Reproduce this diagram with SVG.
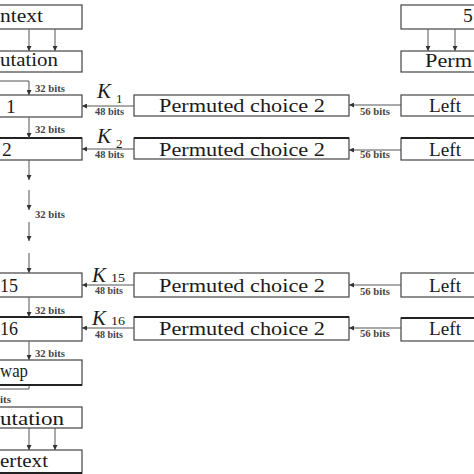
<svg xmlns="http://www.w3.org/2000/svg" width="474" height="474" viewBox="0 0 474 474">
<defs>
<marker id="ah" viewBox="0 0 10 10" refX="10" refY="5" markerWidth="5" markerHeight="5" orient="auto" markerUnits="userSpaceOnUse">
<path d="M0,0 L10,5 L0,10 z" fill="#333"/>
</marker>
<style>
.box{fill:#fff;stroke:#444;stroke-width:1.2}
.thick{stroke:#222;stroke-width:2.2;fill:none}
.t{font-family:"Liberation Serif","Times New Roman",serif;font-size:19.5px;fill:#1a1a1a}
.k{font-family:"Liberation Serif","Times New Roman",serif;font-style:italic;font-size:21px;fill:#1a1a1a}
.ks{font-family:"Liberation Serif","Times New Roman",serif;font-size:13px;fill:#1a1a1a}
.s{font-family:"Liberation Serif","Times New Roman",serif;font-size:9.5px;font-weight:bold;fill:#444}
.c{stroke:#555;stroke-width:1;fill:none}
.ca{stroke:#555;stroke-width:1;fill:none;marker-end:url(#ah)}
</style>
</defs>
<rect width="474" height="474" fill="#fff"/>

<g id="plaintext"><rect class="box" x="-2" y="5" width="84" height="24"/><text class="t" x="0" y="22" textLength="43" lengthAdjust="spacingAndGlyphs">ntext</text></g>
<g id="ip"><rect class="box" x="-2" y="51" width="84" height="21"/><text class="t" x="0" y="66" textLength="58" lengthAdjust="spacingAndGlyphs">utation</text></g>
<g id="round1"><rect class="box" x="-2" y="95" width="84" height="22"/><text class="t" x="6" y="112.5">1</text></g>
<g id="round2"><rect class="box" x="-2" y="138" width="84" height="22"/><line class="thick" x1="-2" y1="138" x2="82" y2="138"/><text class="t" x="2" y="156">2</text></g>
<g id="round15"><rect class="box" x="-2" y="273" width="84" height="24"/><text class="t" x="0" y="292" textLength="18" lengthAdjust="spacingAndGlyphs">15</text></g>
<g id="round16"><rect class="box" x="-2" y="317" width="84" height="24"/><line class="thick" x1="-2" y1="317" x2="82" y2="317"/><text class="t" x="0" y="335" textLength="18" lengthAdjust="spacingAndGlyphs">16</text></g>
<g id="swap"><rect class="box" x="-2" y="360" width="84" height="25"/><line class="thick" x1="-2" y1="385" x2="82" y2="385"/><text class="t" x="0" y="377" textLength="28" lengthAdjust="spacingAndGlyphs">wap</text></g>
<g id="ipinv"><rect class="box" x="-2" y="407" width="84" height="21"/><text class="t" x="0" y="425" textLength="64" lengthAdjust="spacingAndGlyphs">utation</text></g>
<g id="ciphertext"><rect class="box" x="-2" y="450" width="84" height="23"/><line class="thick" x1="-2" y1="473" x2="82" y2="473"/><text class="t" x="0" y="467" textLength="48" lengthAdjust="spacingAndGlyphs">ertext</text></g>

<g id="pc2-1"><rect class="box" x="134" y="95" width="215" height="21"/><text class="t" x="159" y="112" textLength="166" lengthAdjust="spacingAndGlyphs">Permuted choice 2</text></g>
<g id="pc2-2"><rect class="box" x="134" y="138" width="215" height="21"/><line class="thick" x1="134" y1="138" x2="349" y2="138"/><text class="t" x="159" y="156" textLength="166" lengthAdjust="spacingAndGlyphs">Permuted choice 2</text></g>
<g id="pc2-15"><rect class="box" x="134" y="273" width="215" height="24"/><text class="t" x="159" y="292" textLength="166" lengthAdjust="spacingAndGlyphs">Permuted choice 2</text></g>
<g id="pc2-16"><rect class="box" x="134" y="317" width="215" height="23"/><line class="thick" x1="134" y1="317" x2="349" y2="317"/><text class="t" x="159" y="335" textLength="166" lengthAdjust="spacingAndGlyphs">Permuted choice 2</text></g>

<g id="key"><rect class="box" x="401" y="5" width="76" height="24"/><text class="t" x="463" y="21.5">5</text></g>
<g id="pc1"><rect class="box" x="401" y="51" width="76" height="21"/><text class="t" x="425" y="67" textLength="47" lengthAdjust="spacingAndGlyphs">Perm</text></g>
<g id="ls1"><rect class="box" x="401" y="95" width="76" height="21"/><text class="t" x="429" y="112" textLength="32" lengthAdjust="spacingAndGlyphs">Left</text></g>
<g id="ls2"><rect class="box" x="401" y="138" width="76" height="22"/><line class="thick" x1="401" y1="138" x2="477" y2="138"/><text class="t" x="429" y="156" textLength="32" lengthAdjust="spacingAndGlyphs">Left</text></g>
<g id="ls15"><rect class="box" x="401" y="273" width="76" height="24"/><text class="t" x="429" y="292" textLength="32" lengthAdjust="spacingAndGlyphs">Left</text></g>
<g id="ls16"><rect class="box" x="401" y="318" width="76" height="23"/><line class="thick" x1="401" y1="318" x2="477" y2="318"/><text class="t" x="429" y="335" textLength="32" lengthAdjust="spacingAndGlyphs">Left</text></g>

<g id="connectors">
<line class="ca" x1="29" y1="29" x2="29" y2="51"/>
<line class="ca" x1="55" y1="29" x2="55" y2="51"/>
<polyline class="ca" points="0,81 29,81 29,95"/>
<line class="ca" x1="29" y1="117" x2="29" y2="138"/>
<line class="ca" x1="29" y1="160" x2="29" y2="180"/>
<line class="ca" x1="29" y1="190" x2="29" y2="210"/>
<line class="ca" x1="29" y1="222" x2="29" y2="241"/>
<line class="ca" x1="29" y1="253" x2="29" y2="273"/>
<line class="ca" x1="29" y1="297" x2="29" y2="317"/>
<line class="ca" x1="29" y1="341" x2="29" y2="360"/>
<polyline class="c" points="29,386 29,389 0,389"/>
<line class="ca" x1="29" y1="428" x2="29" y2="450"/>
<line class="ca" x1="55" y1="428" x2="55" y2="450"/>
<line class="ca" x1="428" y1="29" x2="428" y2="51"/>
<line class="ca" x1="455" y1="29" x2="455" y2="51"/>
<line class="ca" x1="134" y1="106" x2="82" y2="106"/>
<line class="ca" x1="134" y1="149" x2="82" y2="149"/>
<line class="ca" x1="134" y1="285" x2="82" y2="285"/>
<line class="ca" x1="134" y1="328" x2="82" y2="328"/>
<line class="ca" x1="401" y1="105" x2="349" y2="105"/>
<line class="ca" x1="401" y1="150" x2="349" y2="150"/>
<line class="ca" x1="401" y1="285" x2="349" y2="285"/>
<line class="ca" x1="401" y1="328" x2="349" y2="328"/>
</g>

<g id="labels">
<text class="s" x="35" y="92" textLength="30" lengthAdjust="spacingAndGlyphs">32 bits</text>
<text class="s" x="35" y="133" textLength="30" lengthAdjust="spacingAndGlyphs">32 bits</text>
<text class="s" x="35" y="218" textLength="30" lengthAdjust="spacingAndGlyphs">32 bits</text>
<text class="s" x="35" y="314" textLength="30" lengthAdjust="spacingAndGlyphs">32 bits</text>
<text class="s" x="35" y="357" textLength="30" lengthAdjust="spacingAndGlyphs">32 bits</text>
<text class="s" x="0" y="403" textLength="11" lengthAdjust="spacingAndGlyphs">its</text>
<text class="s" x="95" y="115" textLength="29" lengthAdjust="spacingAndGlyphs">48 bits</text>
<text class="s" x="95" y="158" textLength="29" lengthAdjust="spacingAndGlyphs">48 bits</text>
<text class="s" x="95" y="294" textLength="28" lengthAdjust="spacingAndGlyphs">48 bits</text>
<text class="s" x="95" y="338" textLength="28" lengthAdjust="spacingAndGlyphs">48 bits</text>
<text class="s" x="360" y="115" textLength="30" lengthAdjust="spacingAndGlyphs">56 bits</text>
<text class="s" x="360" y="158" textLength="30" lengthAdjust="spacingAndGlyphs">56 bits</text>
<text class="s" x="360" y="295" textLength="30" lengthAdjust="spacingAndGlyphs">56 bits</text>
<text class="s" x="360" y="337" textLength="30" lengthAdjust="spacingAndGlyphs">56 bits</text>
<text class="k" x="97" y="98">K</text><text class="ks" x="116" y="103">1</text>
<text class="k" x="97" y="143">K</text><text class="ks" x="116" y="148">2</text>
<text class="k" x="92" y="282">K</text><text class="ks" x="111" y="282" textLength="14" lengthAdjust="spacingAndGlyphs">15</text>
<text class="k" x="92" y="325">K</text><text class="ks" x="111" y="325" textLength="14" lengthAdjust="spacingAndGlyphs">16</text>
</g>
</svg>
